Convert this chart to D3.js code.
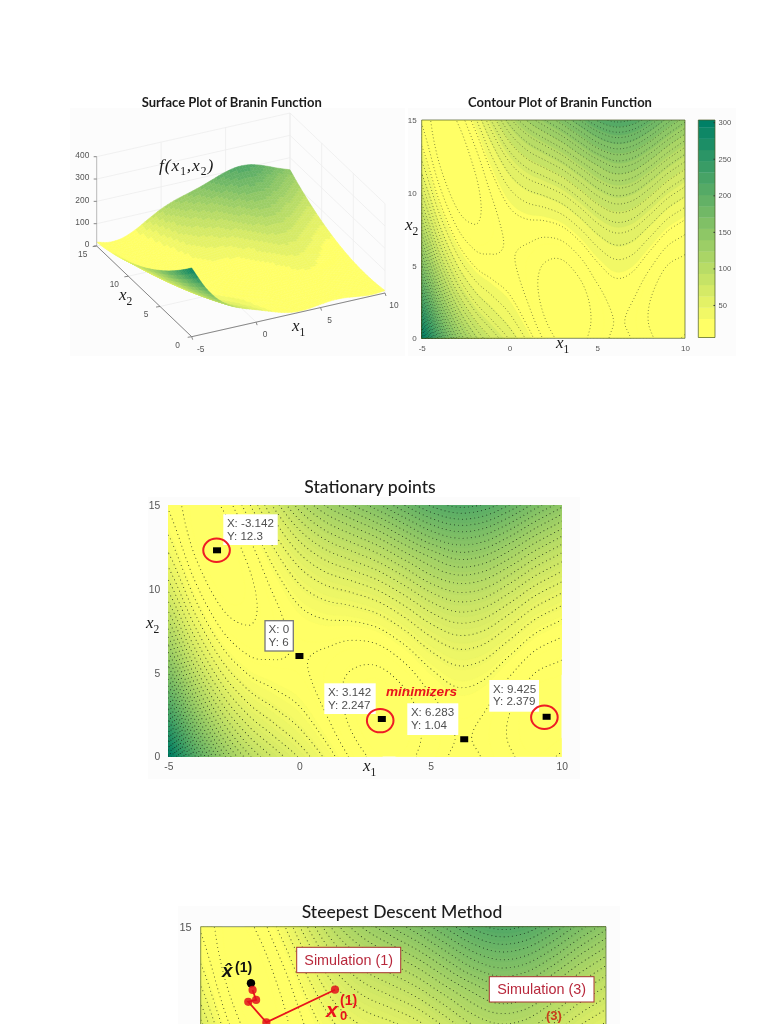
<!DOCTYPE html>
<html><head><meta charset="utf-8">
<script src="https://cdn.jsdelivr.net/npm/d3@7/dist/d3.min.js"></script>
<style>
html,body{margin:0;padding:0;background:#fff;overflow:hidden}
svg{display:block;filter:blur(0.3px)}
text{font-family:"Liberation Sans",sans-serif}
.title{font-family:Lato,sans-serif;fill:#1c1c1c;text-anchor:middle}
.tick text{font-family:"Liberation Sans",sans-serif;fill:#555}
.math{font-family:"Liberation Serif",serif;font-style:italic;fill:#1a1a1a}
</style></head><body>
<svg id="c" width="768" height="1024"></svg>
<script>
// ---------- data ----------
const x1Ticks=[-5,0,5,10];
const x2Ticks=[0,5,10,15];
const zTicks=[0,100,200,300,400];
const barTicks=[50,100,150,200,250,300];
// f at x2 = 0,1,...,15, one list per x1 column (x1 = -5,...,10)
const colM5=[308.1,274.7,243.4,214.0,186.6,161.2,137.9,116.5,97.1,79.8,64.4,51.0,39.6,30.3,22.9,17.5];
const colM4=[212.0,184.2,158.3,134.4,112.6,92.7,74.8,59.0,45.1,33.2,23.4,15.5,9.6,5.8,3.9,4.0];
const colM3=[143.0,120.1,99.2,80.4,63.5,48.6,35.7,24.9,16.0,9.1,4.2,1.4,0.5,1.6,4.8,9.9];
const colM2=[100.1,81.7,65.3,50.9,38.5,28.1,19.7,13.3,8.9,6.5,6.1,7.7,11.3,16.9,24.5,34.1];
const colM1=[74.8,60.4,47.9,37.5,29.0,22.6,18.2,15.7,15.3,16.8,20.4,26.0,33.5,43.1,54.6,68.2];
const col0=[55.6,44.6,35.6,28.6,23.6,20.6,19.6,20.6,23.6,28.6,35.6,44.6,55.6,68.6,83.6,100.6];
const col1=[35.8,27.7,21.6,17.6,15.5,15.4,17.3,21.3,27.2,35.1,45.0,57.0,70.9,86.8,104.7,124.6];
const col2=[17.1,11.4,7.8,6.1,6.4,8.8,13.1,19.4,27.8,38.1,50.4,64.8,81.1,99.4,119.8,142.1];
const col3=[6.2,2.4,0.6,0.9,3.1,7.3,13.5,21.8,32.0,44.2,58.4,74.7,92.9,113.1,135.3,159.6];
const col4=[6.6,4.2,3.8,5.4,9.0,14.6,22.2,31.8,43.4,57.0,72.6,90.2,109.8,131.4,155.0,180.7];
const col5=[14.3,12.8,13.3,15.7,20.2,26.6,35.1,45.5,58.0,72.4,88.9,107.3,125.8,150.2,174.7,201.2];
const col6=[20.4,19.2,20.0,22.8,27.6,34.4,43.2,54.0,66.8,81.6,98.4,117.2,138.0,160.8,185.6,212.4];
const col7=[18.6,17.3,17.9,20.5,25.1,31.7,40.4,51.0,63.6,78.2,94.9,113.5,134.1,156.7,181.3,208.0];
const col8=[11.0,8.9,8.8,10.7,14.7,20.6,28.5,38.5,50.4,64.3,80.3,98.2,118.1,140.0,164.0,189.9];
const col9=[5.8,2.5,1.3,2.0,4.7,9.4,16.2,24.9,35.6,48.3,63.0,79.7,98.5,119.2,141.9,166.6];
const col10=[10.9,5.9,2.9,1.9,2.9,5.9,10.9,17.9,26.9,37.9,50.9,65.9,82.9,101.9,122.9,145.9];
const columns=[colM5,colM4,colM3,colM2,colM1,col0,col1,col2,col3,col4,col5,col6,col7,col8,col9,col10];
const contourLevels=[9.5,19,28.5,38,47.5,57,66.5,76,85.5,95,104.5,114,123.5,133,142.5,152,161.5,171,180.5,190,199.5,209,218.5,228,237.5,247,256.5,266,275.5,285,294.5,304];
const stationaryX=[-3.142,0,3.142,6.283,9.425];
const stationaryY=[12.3,6,2.247,1.04,2.379];
const tipLines=[["X: -3.142","Y: 12.3"],["X: 0","Y: 6"],["X: 3.142","Y: 2.247"],["X: 6.283","Y: 1.04"],["X: 9.425","Y: 2.379"]];
const circledX=[-3.16,3.08,9.34];
const circledY=[12.3,2.15,2.35];
const descentX=[-0.03,-2.57,-3.24,-2.95,-3.08];
const descentY=[11.97,10.4,11.39,11.48,11.96];
const descentEndX=[-3.14];
const descentEndY=[12.28];

// ---------- helpers ----------
const svg=d3.select("#c");
const defs=svg.append("defs");
const low="#ffff66",high="#008066";
const color=d3.scaleLinear().domain([23.5,300.7]).range([low,high]).interpolate(d3.interpolateRgb).clamp(true);
function cell(i,j){
  if(i<0)return 2*cell(0,j)-cell(1,j);
  if(i>15)return 2*cell(15,j)-cell(14,j);
  if(j<0)return 2*cell(i,0)-cell(i,1);
  if(j>15)return 2*cell(i,15)-cell(i,14);
  return columns[i][j];
}
const cr=(a,b,c,d,t)=>0.5*(2*b+(c-a)*t+(2*a-5*b+4*c-d)*t*t+(3*b-a-3*c+d)*t*t*t);
function height(a,b){ // smooth rendering of the table
  const u=a+5,v=b;
  const i=Math.min(14,Math.floor(u)),j=Math.min(14,Math.floor(v));
  const s=u-i,t=v-j;
  const r=[-1,0,1,2].map(di=>cr(cell(i+di,j-1),cell(i+di,j),cell(i+di,j+1),cell(i+di,j+2),t));
  return cr(r[0],r[1],r[2],r[3],s);
}
const N=151,fine=new Array(N*N);
for(let j=0;j<N;j++)for(let i=0;i<N;i++)fine[i+j*N]=height(-5+i*0.1,j*0.1);
let clipId=0;
const plain=d=>String(d);
function contourPlot(box,bandStep,opt){
  const x=d3.scaleLinear().domain([-5,10]).range([box.l,box.r]);
  const y=d3.scaleLinear().domain([0,15]).range([box.b,box.t]);
  const id="clip"+(clipId++);
  defs.append("clipPath").attr("id",id).append("rect")
    .attr("x",box.l).attr("y",box.t).attr("width",box.r-box.l).attr("height",box.b-box.t);
  const g=svg.append("g");
  const body=g.append("g").attr("clip-path",`url(#${id})`);
  const path=d3.geoPath(d3.geoTransform({point(px,py){
    this.stream.point(x(-5+(px-0.5)*0.1),y((py-0.5)*0.1));}}));
  body.append("rect").attr("x",box.l).attr("y",box.t).attr("width",box.r-box.l).attr("height",box.b-box.t).attr("fill",color(0.4+bandStep/2));
  const bands=d3.range(0.4+bandStep,308,bandStep);
  const cg=d3.contours().size([N,N]).smooth(true);
  body.append("g").selectAll("path").data(cg.thresholds(bands)(fine)).join("path")
    .attr("d",path).attr("fill",d=>color(d.value+bandStep/2)).attr("stroke",d=>color(d.value+bandStep/2)).attr("stroke-width",0.3);
  body.append("g").selectAll("path").data(cg.thresholds(contourLevels)(fine)).join("path")
    .attr("d",path).attr("fill","none").attr("stroke","#101c12").attr("stroke-opacity",opt.lineOpacity)
    .attr("stroke-width",opt.lineWidth).attr("stroke-linecap","round").attr("stroke-dasharray",opt.dash);
  if(opt.showX!==false){
    const ax=g.append("g").attr("class","tick").attr("transform",`translate(0,${box.b})`)
      .call(d3.axisBottom(x).tickValues(x1Ticks).tickFormat(plain).tickSize(0).tickPadding(opt.padX));
    ax.select(".domain").remove();
    ax.selectAll("text").attr("font-size",opt.font);
  }
  const ay=g.append("g").attr("class","tick").attr("transform",`translate(${box.l},0)`)
    .call(d3.axisLeft(y).tickValues(opt.yTicks||x2Ticks).tickFormat(plain).tickSize(0).tickPadding(opt.padY));
  ay.select(".domain").remove();
  ay.selectAll("text").attr("font-size",opt.font);
  return {x,y,g};
}
function math(x,y,base,sub,size){
  const t=svg.append("text").attr("class","math").attr("x",x).attr("y",y).attr("font-size",size);
  t.append("tspan").text(base);
  t.append("tspan").attr("dy",size*0.28).attr("font-size",size*0.68).attr("font-style","normal").text(sub);
  return t;
}
function title(x,y,s,size,w){
  svg.append("text").attr("class","title").attr("x",x).attr("y",y).attr("font-size",size).attr("font-weight",w).text(s);
}
function bg(x,y,w,h){svg.append("rect").attr("x",x).attr("y",y).attr("width",w).attr("height",h).attr("fill","#fcfcfc");}

// ---------- backgrounds and titles ----------
bg(70,108,335,248); bg(408,108,328,248); bg(148,497,432,282); bg(178,906,442,118);
title(231.7,106.5,"Surface Plot of Branin Function",13,700);
title(560,106.5,"Contour Plot of Branin Function",13,700);
title(370,493,"Stationary points",17.6,500);
title(402,918,"Steepest Descent Method",17.5,500);

// ---------- surface plot ----------
const fx=d3.scaleLinear().domain([-5,10]).range([0,193.3]);
const fy=d3.scaleLinear().domain([-5,10]).range([0,-43.7]);
const bx=d3.scaleLinear().domain([0,15]).range([0,-95]);
const by=d3.scaleLinear().domain([0,15]).range([0,-90.7]);
const zy=d3.scaleLinear().domain([0,400]).range([0,-89.3]);
const P=(a,b,z)=>[191.7+fx(a)+bx(b),336.7+fy(a)+by(b)+zy(z)];
const line3=d3.line();
const wire=svg.append("g").attr("fill","none").attr("stroke","#ededed").attr("stroke-width",0.8);
zTicks.forEach(z=>{
  wire.append("path").attr("d",line3([P(-5,15,z),P(10,15,z),P(10,0,z)]));
});
x1Ticks.forEach(a=>{wire.append("path").attr("d",line3([P(a,15,0),P(a,15,400)]));
  wire.append("path").attr("d",line3([P(a,0,0),P(a,15,0)]));});
x2Ticks.forEach(b=>{wire.append("path").attr("d",line3([P(10,b,0),P(10,b,400)]));
  wire.append("path").attr("d",line3([P(-5,b,0),P(10,b,0)]));});
// back to front
const surfStep=0.25,surfBand=15.4;
const surf=svg.append("g");
const bandColor=v=>color(0.4+(Math.floor(Math.max(0,v-0.4)/surfBand)+0.5)*surfBand);
const gridA=d3.range(10-surfStep,-5-1e-6,-surfStep),gridB=d3.range(15-surfStep,-1e-6,-surfStep);
gridB.forEach(b=>gridA.forEach(a=>{
  const a2=a+surfStep,b2=b+surfStep;
  const c=bandColor(height(a+surfStep/2,b+surfStep/2));
  surf.append("path").attr("d",line3([P(a,b,height(a,b)),P(a2,b,height(a2,b)),P(a2,b2,height(a2,b2)),P(a,b2,height(a,b2))])+"Z")
    .attr("fill",c).attr("stroke",c).attr("stroke-width",0.5);
}));
// axes lines of the box
const axisLines=svg.append("g").attr("fill","none").attr("stroke","#7a7a7a").attr("stroke-width",0.9);
axisLines.append("path").attr("d",line3([P(-5,15,0),P(-5,0,0),P(10,0,0)]));
axisLines.append("path").attr("d",line3([P(-5,15,0),P(-5,15,400)])).attr("stroke","#b5b5b5");
const labs=svg.append("g").attr("class","tick").attr("font-size",8.4);
zTicks.forEach(z=>{const p=P(-5,15,z);
  axisLines.append("path").attr("d",line3([p,[p[0]-3,p[1]]]));
  labs.append("text").attr("x",p[0]-7.4).attr("y",p[1]+1.2).attr("text-anchor","end").text(z);});
x2Ticks.forEach(b=>{const p=P(-5,b,0);
  axisLines.append("path").attr("d",line3([p,[p[0]-4,p[1]+0.6]]));
  labs.append("text").attr("x",p[0]-14).attr("y",p[1]+11).attr("text-anchor","middle").text(b);});
x1Ticks.forEach(a=>{const p=P(a,0,0);
  axisLines.append("path").attr("d",line3([p,[p[0]+1,p[1]+3]]));
  labs.append("text").attr("x",p[0]+9).attr("y",p[1]+15).attr("text-anchor","middle").text(a);});
const fl=svg.append("text").attr("class","math").attr("x",159).attr("y",171).attr("font-size",17.5).attr("letter-spacing",0.9);
fl.append("tspan").text("f(x");
fl.append("tspan").attr("dy",3.5).attr("font-size",11.5).attr("font-style","normal").text("1");
fl.append("tspan").attr("dy",-3.5).text(",x");
fl.append("tspan").attr("dy",3.5).attr("font-size",11.5).attr("font-style","normal").text("2");
fl.append("tspan").attr("dy",-3.5).text(")");
math(119,300,"x","2",17);
math(292,331,"x","1",17);

// ---------- contour plot with colour bar ----------
const p2=contourPlot({l:421.7,r:685,t:120,b:338.3},15.4,{lineOpacity:0.72,lineWidth:0.85,dash:"0.01 3.3",font:8,padX:7,padY:5});
p2.g.append("path").attr("d",line3([[421.7,120],[421.7,338.3],[685,338.3],[685,120],[421.7,120]])).attr("fill","none").attr("stroke","#4b5a24").attr("stroke-width",0.7);
math(405,230,"x","2",17);
math(556,348,"x","1",17);
const barY=d3.scaleLinear().domain([5.5,303]).range([337.5,120]);
const barEdges=d3.range(0,20).map(i=>0.4+i*15.4);
svg.append("g").selectAll("rect").data(barEdges).join("rect")
  .attr("x",698.3).attr("width",16.7)
  .attr("y",d=>barY(Math.min(303,d+15.4))).attr("height",d=>Math.max(0,barY(Math.max(5.5,d))-barY(Math.min(303,d+15.4)))+0.3)
  .attr("fill",d=>color(d+7.7));
svg.append("path").attr("d",line3([[698.3,120],[698.3,337.5],[715,337.5],[715,120],[698.3,120]])).attr("fill","none").attr("stroke","#4b5a24").attr("stroke-width",0.7);
const barAxis=svg.append("g").attr("class","tick").attr("transform","translate(715,0)")
  .call(d3.axisRight(barY).tickValues(barTicks).tickSize(-1.5).tickPadding(3.5));
barAxis.select(".domain").remove();
barAxis.selectAll("text").attr("font-size",7.6);
barAxis.selectAll("line").attr("stroke","#333");

// ---------- stationary points ----------
const p3=contourPlot({l:168.3,r:561.7,t:505,b:756.7},5.1,{lineOpacity:0.8,lineWidth:1.05,dash:"0.01 4.1",font:10.3,padX:6,padY:8});
math(146,628,"x","2",17);
math(363,771,"x","1",17);
const tipBoxes=[[223.3,514.3,54.4,30.7],[265,620.7,28.3,30.3],[324.3,683.3,51.4,30.7],[407.3,703.3,51,31.7],[489.3,680,49.7,31.7]];
const tips=svg.append("g");
tipBoxes.forEach((b,i)=>{
  tips.append("rect").attr("x",b[0]).attr("y",b[1]).attr("width",b[2]).attr("height",b[3]).attr("fill","#fff")
    .attr("stroke",i===1?"#777":"none").attr("stroke-width",1.3);
  tipLines[i].forEach((s,k)=>tips.append("text").attr("x",b[0]+3.6).attr("y",b[1]+12.5+k*12.7)
    .attr("font-size",11.6).attr("fill","#505050").text(s));
});
svg.append("g").selectAll("rect").data(stationaryX).join("rect")
  .attr("x",d=>p3.x(d)-4).attr("width",8)
  .attr("y",(d,i)=>p3.y(stationaryY[i])-3).attr("height",6).attr("fill","#000");
svg.append("g").selectAll("ellipse").data(circledX).join("ellipse")
  .attr("cx",d=>p3.x(d)).attr("cy",(d,i)=>p3.y(circledY[i])).attr("rx",13.3).attr("ry",11.7)
  .attr("fill","none").attr("stroke","#ee1c25").attr("stroke-width",2);
svg.append("text").attr("x",421.5).attr("y",695.5).attr("text-anchor","middle").attr("font-family","Lato,sans-serif")
  .attr("font-style","italic").attr("font-weight",700).attr("font-size",13.6).attr("fill","#e8141c").text("minimizers");

// ---------- steepest descent ----------
const p4=contourPlot({l:200.7,r:606,t:926.7,b:1238.7},5.1,{lineOpacity:0.8,lineWidth:1.05,dash:"0.01 4.1",font:11,padX:6,padY:9,yTicks:[15],showX:false});
p4.g.append("path").attr("d",line3([[200.7,1024],[200.7,926.7],[606,926.7],[606,1024]])).attr("fill","none").attr("stroke","#55643a").attr("stroke-width",0.7);
const descentLine=d3.line().x(d=>p4.x(d[0])).y(d=>p4.y(d[1]));
svg.append("path").attr("d",descentLine(descentX.map((d,i)=>[d,descentY[i]]))).attr("fill","none").attr("stroke","#e8141c").attr("stroke-width",1.8);
svg.append("g").selectAll("circle.end").data(descentEndX).join("circle")
  .attr("cx",d=>p4.x(d)).attr("cy",(d,i)=>p4.y(descentEndY[i])).attr("r",4.2).attr("fill","#000");
svg.append("g").selectAll("circle").data(descentX).join("circle")
  .attr("cx",d=>p4.x(d)).attr("cy",(d,i)=>p4.y(descentY[i])).attr("r",4.1).attr("fill","#e2101c").attr("fill-opacity",0.85);
const simBoxes=[[296.7,947.3,104,25.4,"Simulation (1)"],[489.3,976.7,104.7,25.3,"Simulation (3)"]];
simBoxes.forEach(b=>{
  svg.append("rect").attr("x",b[0]).attr("y",b[1]).attr("width",b[2]).attr("height",b[3]).attr("fill","#fff").attr("stroke","#a8322e").attr("stroke-width",1);
  svg.append("text").attr("x",b[0]+b[2]/2).attr("y",b[1]+17.2).attr("text-anchor","middle").attr("font-family","Lato,sans-serif").attr("font-size",14.4).attr("fill","#b8283c").text(b[4]);
});
const boldSerif="'DejaVu Serif',serif";
svg.append("text").attr("x",222).attr("y",977).attr("font-family",boldSerif).attr("font-weight",700).attr("font-style","italic").attr("font-size",19).attr("fill","#111").text("x\u0302");
svg.append("text").attr("x",235).attr("y",972).attr("font-family",boldSerif).attr("font-weight",700).attr("font-size",14).attr("fill","#111").text("(1)");
svg.append("text").attr("x",326).attr("y",1017).attr("font-family",boldSerif).attr("font-weight",700).attr("font-style","italic").attr("font-size",21).attr("fill","#e8141c").text("x");
svg.append("text").attr("x",340).attr("y",1005).attr("font-family",boldSerif).attr("font-weight",700).attr("font-size",14).attr("fill","#e8141c").text("(1)");
svg.append("text").attr("x",340).attr("y",1020).attr("font-family",boldSerif).attr("font-weight",700).attr("font-size",13).attr("fill","#e8141c").text("0");
svg.append("text").attr("x",546).attr("y",1020).attr("font-family",boldSerif).attr("font-weight",700).attr("font-size",13).attr("fill","#c8401c").text("(3)");
</script>
</body></html>
